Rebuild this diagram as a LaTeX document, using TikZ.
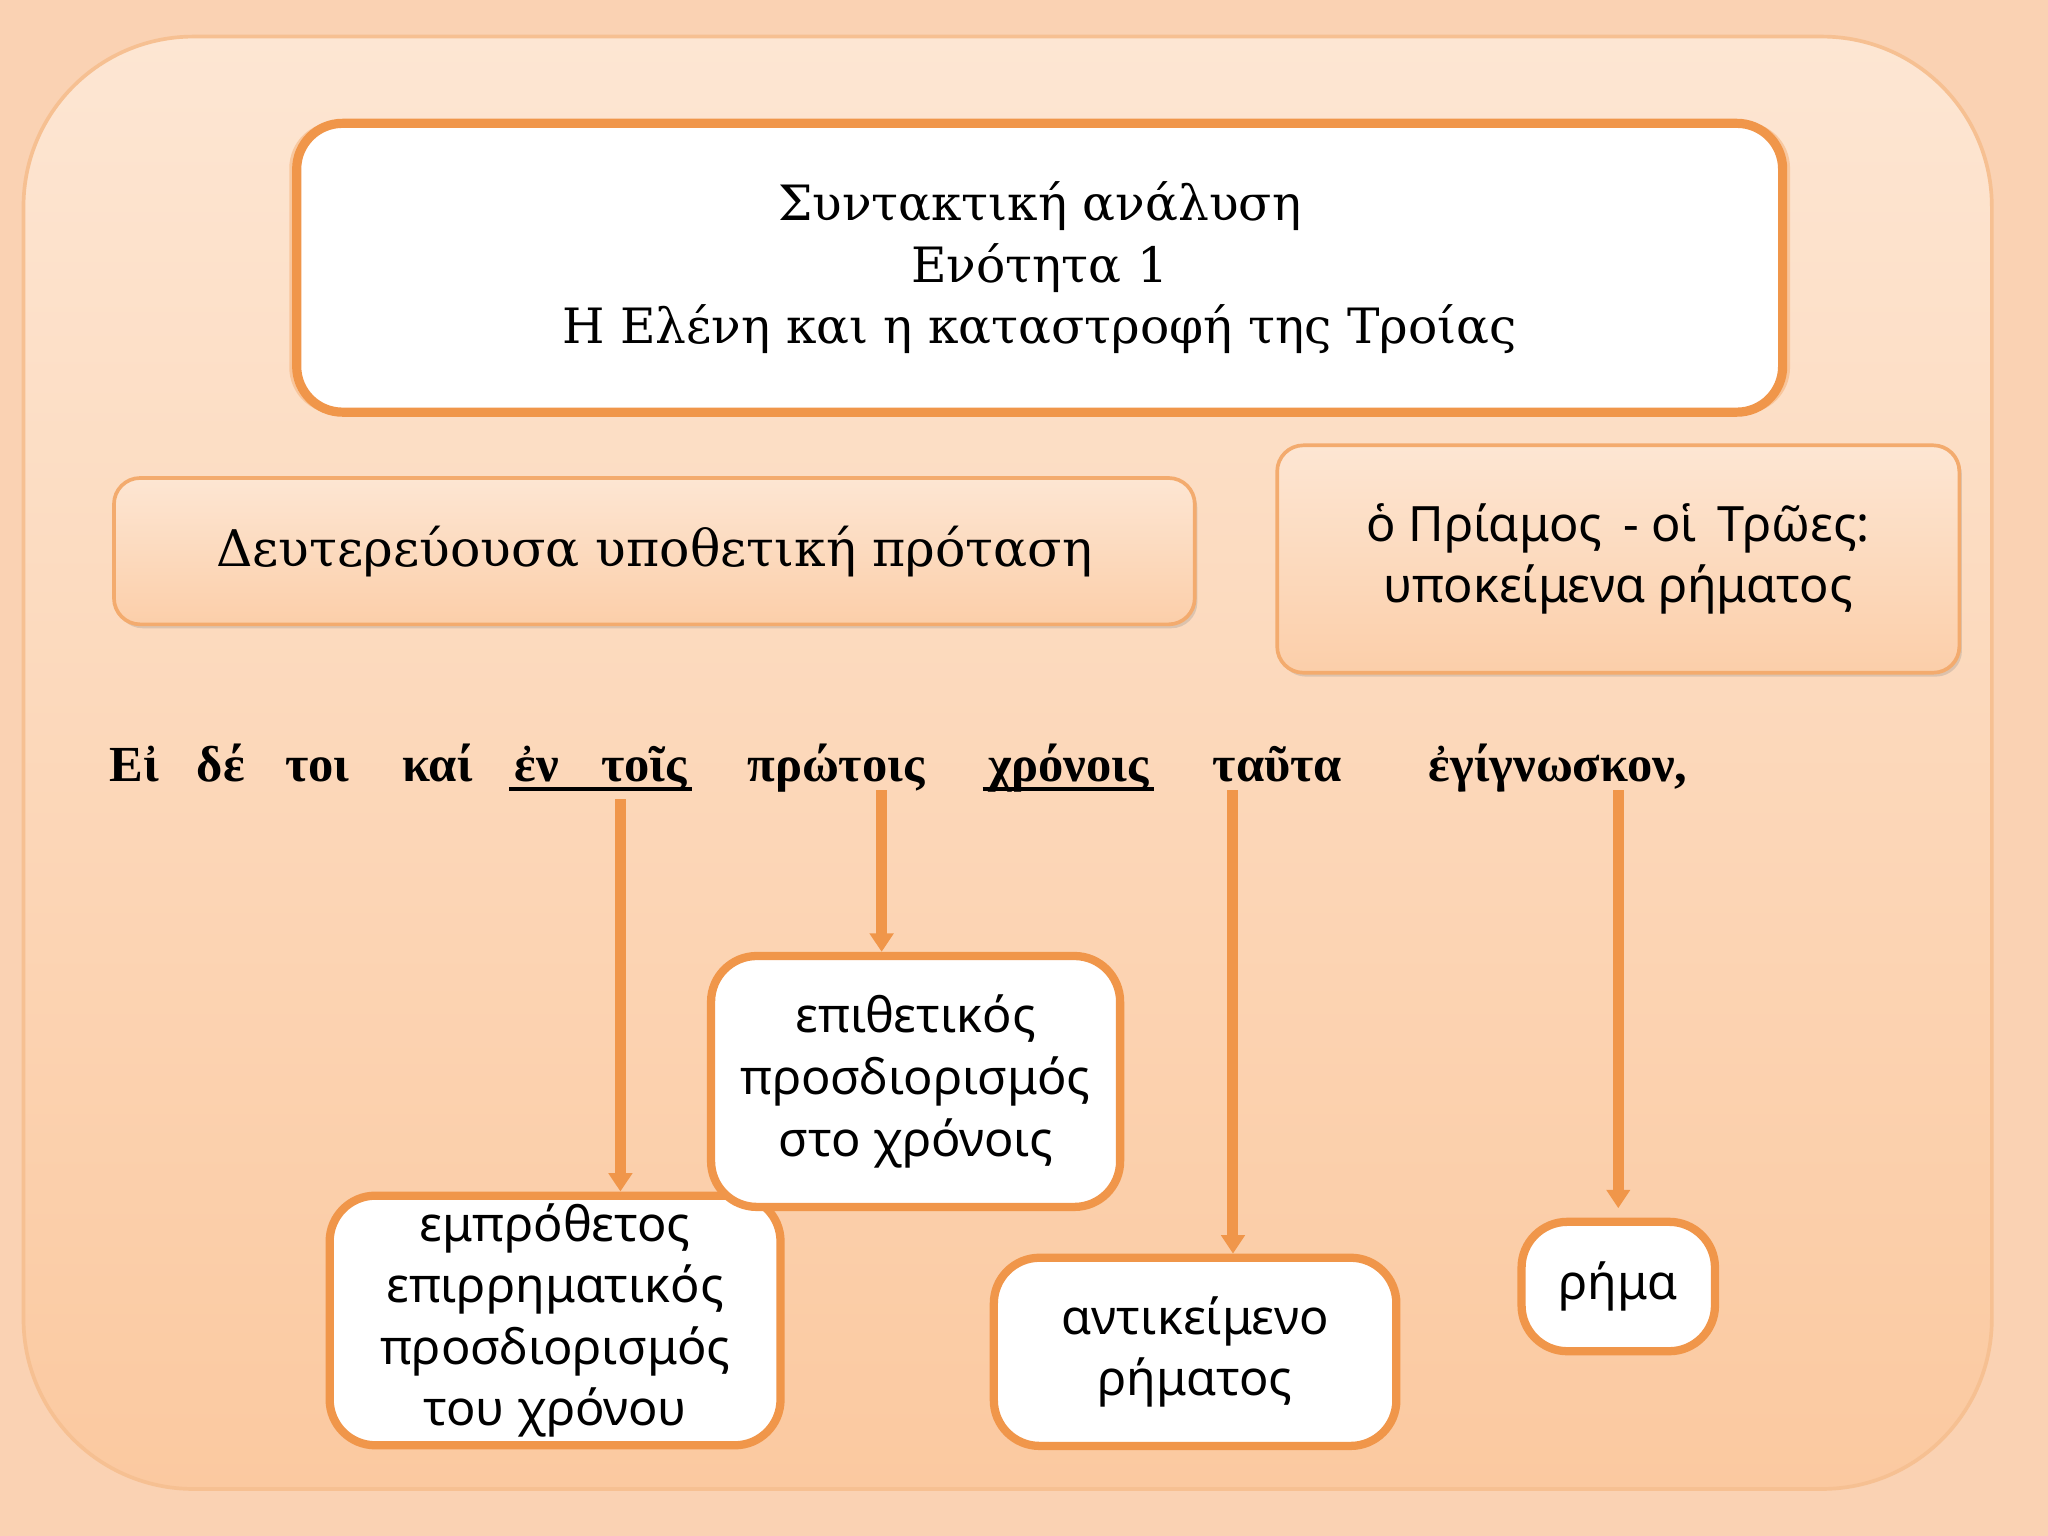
\documentclass[tikz,border=0pt]{standalone}
\usepackage{fontspec}
\setmainfont{Liberation Serif}
\newfontfamily\ttl{DejaVu Serif}
\newfontfamily\sns{Noto Sans}
\usetikzlibrary{arrows.meta,shadows}
\definecolor{bg}{HTML}{FAD2B3}
\definecolor{og}{HTML}{F0964A}
\definecolor{pk1}{HTML}{FDE6D3}
\definecolor{pk2}{HTML}{FBC9A0}
\tikzset{
 wbox/.style={draw=og,line width=1.8pt,fill=white,rounded corners=0.35cm,align=center,font=\sns\fontsize{10.6}{13.4}\selectfont,inner sep=0pt},
 pbox/.style={draw=og!80,line width=0.8pt,top color=pk1,bottom color=pk2!90,rounded corners=0.2cm,align=center,inner sep=0pt,drop shadow={opacity=0.25,shadow xshift=0.02cm,shadow yshift=-0.03cm}},
 word/.style={font=\bfseries\fontsize{11}{13}\selectfont,inner sep=1pt,anchor=base},
 arr/.style={draw=og,line width=2.4pt,-{Triangle[width=5pt,length=4pt]}}
}
\begin{document}
\begin{tikzpicture}[x=0.01cm,y=-0.01cm]
\fill[bg] (0,0) rectangle (1568,1176);
\useasboundingbox (0,0) rectangle (1568,1176);
\shade[top color=pk1,bottom color=pk2,rounded corners=1.3cm,draw=og!60,line width=0.8pt] (18,28) rectangle (1525,1140);
\node[draw=og,line width=2pt,fill=white,rounded corners=0.35cm,minimum width=11.37cm,minimum height=2.21cm,align=center,font=\ttl\fontsize{10.6}{13.4}\selectfont,
 drop shadow={opacity=0.35,color=og,shadow xshift=0,shadow yshift=0,shadow scale=1.01}] (title) at (796,205)
 {Συντακτική ανάλυση\\Ενότητα 1\\Η Ελένη και η καταστροφή της Τροίας};
\node[pbox,minimum width=8.27cm,minimum height=1.12cm,font=\ttl\fontsize{11}{14}\selectfont] (sub) at (501,422) {Δευτερεύουσα υποθετική πρόταση};
\node[pbox,minimum width=5.22cm,minimum height=1.74cm,font=\sns\fontsize{10.6}{13.4}\selectfont] (subj) at (1239,428) {ὁ Πρίαμος\, - οἱ\, Τρῶες:\\υποκείμενα ρήματος};
\node[word] (w1) at (103,598) {Εἰ};
\node[word] (w2) at (169,598) {δέ};
\node[word] (w3) at (243,598) {τοι};
\node[word] (w4) at (335,598) {καί};
\node[word] (w5) at (411,598) {ἐν};
\node[word] (w6) at (493,598) {τοῖς};
\node[word] (w7) at (640,598) {πρώτοις};
\node[word] (w8) at (818,598) {χρόνοις};
\node[word] (w9) at (978,598) {ταῦτα};
\node[word] (w10) at (1193,598) {ἐγίγνωσκον,};
\draw[line width=1pt] (w5.base west)++(0,6) coordinate (u1) -- (u1 -| w6.east);
\draw[line width=1pt] (w8.base west)++(0,6) coordinate (u2) -- (u2 -| w8.east);
\node[wbox,minimum width=3.45cm,minimum height=1.91cm] (b1) at (425,1011) {εμπρόθετος\\επιρρηματικός\\προσδιορισμός\\του χρόνου};
\node[wbox,minimum width=3.13cm,minimum height=1.92cm] (b2) at (701,828) {επιθετικός\\προσδιορισμός\\στο χρόνοις};
\node[wbox,minimum width=3.08cm,minimum height=1.44cm] (b3) at (915,1035) {αντικείμενο\\ρήματος};
\node[wbox,minimum width=1.48cm,minimum height=0.99cm] (b4) at (1239,985) {ρήμα};
\coordinate (s1) at (475,612); \coordinate (s2) at (675,605);
\coordinate (s3) at (944,605); \coordinate (s4) at (1239,605);
\draw[arr] (s1) -- (s1 |- b1.north);
\draw[arr] (s2) -- (s2 |- b2.north);
\draw[arr] (s3) -- (s3 |- b3.north);
\draw[arr] (s4) -- (1239,925);
\end{tikzpicture}
\end{document}
